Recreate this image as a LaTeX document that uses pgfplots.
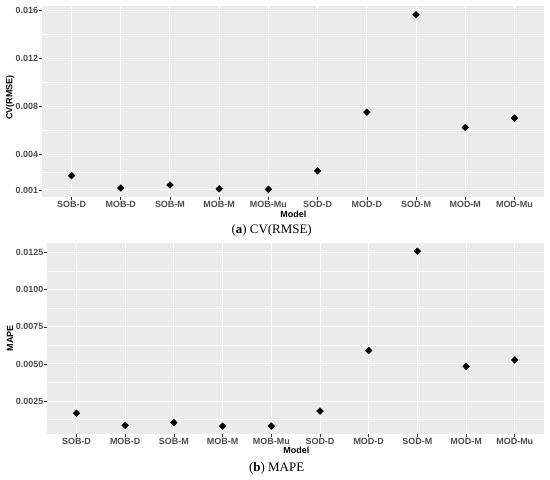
\documentclass[border=0pt]{standalone}
\usepackage{pgfplots}
\pgfplotsset{compat=1.18}
\usepackage{fontspec}
\setmainfont{Liberation Sans}
\newfontfamily\capfont{Liberation Serif}
\definecolor{ggbg}{HTML}{EBEBEB}
\definecolor{ggtxt}{HTML}{4D4D4D}
\definecolor{ggtick}{HTML}{333333}
\pgfplotsset{
  ggstyle/.style={
    scale only axis,
    xmin=0.4, xmax=10.6,
    axis line style={draw=none},
    axis background/.style={fill=ggbg},
    grid=both,
    major grid style={white, line width=1bp},
    minor grid style={white, line width=0.5bp},
    xtick={1,...,10},
    xticklabels={SOB-D,MOB-D,SOB-M,MOB-M,MOB-Mu,SOD-D,MOD-D,SOD-M,MOD-M,MOD-Mu},
    xtick pos=left, ytick pos=left,
    tick align=outside,
    major tick length=3bp, minor tick length=0pt,
    tick style={ggtick, line width=0.6bp},
    ticklabel style={font=\fontsize{9}{10}\selectfont\bfseries, text=ggtxt},
    xticklabel style={inner sep=0.8bp},
    yticklabel style={inner sep=0.8bp},
    scaled y ticks=false,
    /pgf/number format/assume math mode=true,
    clip=false,
  },
  ggmark/.style={only marks, mark=square*, mark size=2.4pt,
    mark options={rotate=45, fill=black, draw=black}, color=black},
}
\begin{document}
\begin{tikzpicture}
\path[use as bounding box] (0,0) rectangle (550bp,480bp);
% Panel (a)
\begin{axis}[ggstyle,
  at={(42bp,282.5bp)}, anchor=south west,
  width=502bp, height=191.5bp,
  ymin=0.000374, ymax=0.016359,
  ytick={0.001,0.004,0.008,0.012,0.016},
  yticklabels={0.001,0.004,0.008,0.012,0.016},
  minor ytick={0.0025,0.006,0.010,0.014},
]
\addplot[ggmark] coordinates {
(1,0.00220) (2,0.00117) (3,0.00142) (4,0.00110) (5,0.00106)
(6,0.00260) (7,0.00750) (8,0.01563) (9,0.00622) (10,0.00700)
};
\end{axis}
% Panel (b)
\begin{axis}[ggstyle,
  at={(47.3bp,46bp)}, anchor=south west,
  width=496.7bp, height=191bp,
  ymin=0.000275, ymax=0.013154,
  ytick={0.0025,0.005,0.0075,0.01,0.0125},
  yticklabels={0.0025,0.0050,0.0075,0.0100,0.0125},
  minor ytick={0.00125,0.00375,0.00625,0.00875,0.01125},
]
\addplot[ggmark] coordinates {
(1,0.00167) (2,0.00086) (3,0.00104) (4,0.00081) (5,0.00081)
(6,0.00182) (7,0.00590) (8,0.01260) (9,0.00484) (10,0.00527)
};
\end{axis}
% axis titles
\node[font=\fontsize{9}{10}\selectfont\bfseries, rotate=90] at (10bp,382.5bp) {CV(RMSE)};
\node[font=\fontsize{9}{10}\selectfont\bfseries, rotate=90] at (10bp,141.7bp) {MAPE};
\node[font=\fontsize{9}{10}\selectfont\bfseries] at (293.3bp,266bp) {Model};
\node[font=\fontsize{9}{10}\selectfont\bfseries] at (296.3bp,29.7bp) {Model};
% captions
\node[font=\capfont\fontsize{13}{15}\selectfont] at (271.7bp,250bp) {(\textbf{a}) CV(RMSE)};
\node[font=\capfont\fontsize{13}{15}\selectfont] at (276.7bp,12bp) {(\textbf{b}) MAPE};
\end{tikzpicture}
\end{document}
